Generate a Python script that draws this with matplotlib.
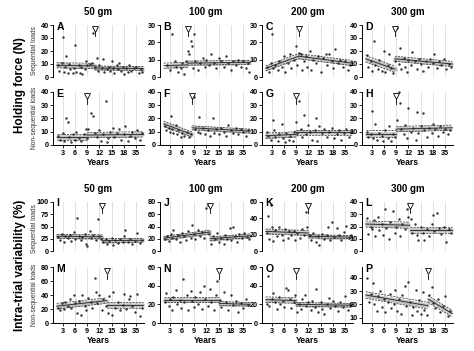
import numpy as np
import matplotlib
matplotlib.use("Agg")
import matplotlib.pyplot as plt

plt.rcParams['font.family'] = ['Liberation Sans', 'DejaVu Sans']

# x positions are ordinal age slots: tick k (1..7) -> 3,6,9,12,15,18,35 years
age_ticks = [1, 2, 3, 4, 5, 6, 7]
age_labels = ['3', '6', '9', '12', '15', '18', '35']
loads = ['50 gm', '100 gm', '200 gm', '300 gm']
letters = list('ABCDEFGHIJKLMNOP')

A_x = [0.6,0.7,0.9,1.0,1.1,1.2,1.3,1.4,1.5,1.6,1.8,1.9,2.0,2.1,2.3,2.4,2.5,2.6,2.8,2.9,3.0,3.2,3.4,3.5,3.6,3.8,3.9,4.0,4.2,4.3,4.4,4.6,4.8,4.9,5.0,5.1,5.2,5.4,5.5,5.6,5.8,5.9,6.0,6.2,6.3,6.4,6.6,6.8,7.0,7.2,7.4,7.5]
A_y = [9,5,11,31,4,8,16,3,10,6,3,7,25,4,9,3,8,2,6,12,9,10,11,34,8,15,5,9,7,14,4,6,8,5,12,7,3,9,6,11,5,8,2,7,4,9,5,7,8,3,6,4]
B_x = [0.8,1.0,1.2,1.4,1.5,1.7,1.9,2.0,2.2,2.3,2.5,2.6,2.7,2.8,2.9,3.0,3.1,3.3,3.5,3.7,3.9,4.0,4.2,4.4,4.6,4.8,5.0,5.2,5.4,5.6,5.8,6.0,6.2,6.4,6.6,6.8,7.0,7.2,7.4,7.5]
B_y = [7,4,25,9,6,3,5,8,2,9,15,13,21,18,5,25,9,4,8,11,6,10,7,13,8,5,11,9,6,12,8,4,9,7,10,6,9,5,8,3]
C_x = [0.6,0.8,0.9,1.0,1.1,1.3,1.5,1.6,1.8,2.0,2.1,2.3,2.5,2.6,2.8,3.0,3.1,3.2,3.4,3.5,3.6,3.8,3.9,4.1,4.2,4.4,4.6,4.8,5.0,5.2,5.4,5.5,5.7,5.9,6.0,6.2,6.4,6.6,6.8,7.0,7.2,7.4]
C_y = [6,3,8,25,5,7,4,9,6,12,3,8,13,5,10,18,7,14,13,4,9,12,6,15,4,10,8,12,3,11,13,7,13,9,5,16,8,10,6,9,4,7]
D_x = [0.6,0.7,0.9,1.0,1.2,1.3,1.5,1.6,1.8,2.0,2.1,2.3,2.4,2.6,2.7,2.9,3.1,3.2,3.3,3.4,3.6,3.7,3.9,4.0,4.2,4.3,4.5,4.7,4.9,5.0,5.2,5.4,5.6,5.8,6.0,6.1,6.3,6.5,6.7,6.9,7.1,7.3,7.5]
D_y = [17,8,12,5,28,9,6,13,5,20,4,9,18,7,3,12,38,10,22,6,15,8,4,13,9,19,12,6,14,10,5,12,8,14,11,18,7,12,9,14,6,10,8]
E_x = [0.6,0.8,1.0,1.1,1.3,1.4,1.5,1.7,1.8,2.0,2.1,2.3,2.5,2.7,2.9,3.0,3.1,3.3,3.5,3.6,3.8,4.0,4.1,4.3,4.5,4.6,4.7,4.9,5.1,5.2,5.4,5.6,5.8,6.0,6.1,6.3,6.5,6.7,6.9,7.1,7.3,7.5]
E_y = [7,4,9,3,20,17,6,2,8,4,10,5,3,8,12,5,12,24,22,9,6,11,3,8,33,2,5,10,13,6,9,12,4,8,14,3,7,10,5,11,4,9]
F_x = [0.6,0.7,0.9,1.0,1.1,1.2,1.3,1.5,1.6,1.7,1.9,2.0,2.2,2.4,2.6,2.7,3.0,3.1,3.3,3.4,3.5,3.7,3.9,4.1,4.3,4.5,4.6,4.8,5.0,5.2,5.4,5.6,5.8,6.0,6.2,6.4,6.6,6.8,7.0,7.2,7.4]
F_y = [14,11,13,10,22,12,9,15,8,11,6,9,7,10,6,8,36,12,10,21,9,13,8,11,7,20,9,12,8,13,10,7,15,11,9,13,8,12,10,7,11]
G_x = [0.6,0.7,0.9,1.1,1.2,1.3,1.5,1.6,1.8,1.9,2.1,2.2,2.4,2.5,2.7,2.8,3.0,3.1,3.2,3.4,3.5,3.6,3.8,4.0,4.1,4.3,4.5,4.6,4.7,4.9,5.1,5.3,5.5,5.7,5.9,6.1,6.3,6.5,6.7,6.9,7.1,7.3,7.5]
G_y = [10,7,4,19,11,6,3,8,16,5,2,9,4,7,3,10,17,9,33,12,6,23,8,15,10,4,11,20,3,14,9,12,6,10,13,5,8,11,4,9,12,6,10]
H_x = [0.6,0.7,0.9,1.0,1.1,1.3,1.4,1.6,1.8,1.9,2.1,2.3,2.4,2.6,2.7,2.9,3.1,3.2,3.3,3.4,3.6,3.7,3.9,4.0,4.2,4.4,4.6,4.7,4.8,5.0,5.2,5.3,5.5,5.7,5.9,6.0,6.2,6.4,6.6,6.8,7.0,7.2,7.4]
H_y = [10,6,8,26,5,16,4,9,7,3,11,5,14,3,8,6,19,40,32,12,8,15,5,28,10,13,4,25,9,14,24,11,6,13,9,16,12,7,14,10,12,8,11]
I_x = [0.6,0.8,0.9,1.1,1.2,1.4,1.6,1.7,1.9,2.0,2.2,2.3,2.5,2.6,2.8,2.9,3.0,3.2,3.3,3.5,3.7,3.9,4.0,4.1,4.3,4.5,4.6,4.8,5.0,5.1,5.3,5.5,5.7,5.9,6.0,6.1,6.3,6.5,6.7,6.9,7.1,7.3,7.5]
I_y = [28,22,35,18,30,26,33,20,38,25,68,30,22,28,34,15,10,40,26,32,22,65,30,25,18,24,14,20,27,12,22,16,25,19,30,42,18,24,14,20,36,17,23]
J_x = [0.6,0.8,0.9,1.1,1.2,1.3,1.5,1.7,1.8,2.0,2.2,2.3,2.5,2.7,2.8,3.0,3.1,3.3,3.5,3.6,3.8,4.0,4.1,4.2,4.4,4.5,4.7,4.9,5.0,5.2,5.4,5.5,5.7,5.9,6.0,6.2,6.3,6.5,6.7,6.9,7.1,7.3,7.5]
J_y = [20,25,17,28,22,34,19,26,15,30,24,18,32,22,42,27,20,35,25,31,22,70,75,28,12,24,19,30,15,22,12,26,20,38,18,39,24,14,28,21,30,23,19]
K_x = [0.6,0.7,0.8,0.9,1.0,1.1,1.3,1.4,1.6,1.8,1.9,2.1,2.3,2.4,2.6,2.8,2.9,3.1,3.3,3.5,3.6,3.8,3.9,4.1,4.2,4.4,4.6,4.8,4.9,5.1,5.3,5.5,5.6,5.8,5.9,6.1,6.3,6.5,6.7,6.9,7.1,7.3,7.5]
K_y = [22,43,15,56,30,12,26,18,29,20,14,27,16,24,19,25,13,22,16,27,19,48,30,20,14,22,11,18,7,21,15,19,30,13,35,17,28,20,14,23,31,16,19]
L_x = [0.6,0.7,0.9,1.0,1.2,1.3,1.5,1.6,1.8,1.9,2.1,2.2,2.4,2.5,2.7,2.9,3.0,3.2,3.3,3.5,3.7,3.9,4.0,4.2,4.3,4.5,4.7,4.8,5.0,5.2,5.3,5.5,5.7,5.9,6.0,6.1,6.3,6.5,6.7,6.9,7.1,7.3,7.5]
L_y = [27,14,20,18,25,12,28,17,22,13,34,19,10,24,33,15,20,26,12,22,18,34,28,26,15,22,13,9,20,15,9,18,12,22,29,16,31,19,14,20,7,18,15]
M_x = [0.6,0.8,0.9,1.1,1.2,1.4,1.6,1.7,1.9,2.0,2.2,2.3,2.5,2.6,2.8,2.9,3.1,3.3,3.4,3.6,3.7,3.8,4.0,4.2,4.3,4.5,4.7,4.8,5.0,5.1,5.3,5.5,5.7,5.9,6.0,6.2,6.4,6.5,6.7,6.9,7.1,7.3,7.5]
M_y = [22,18,28,20,30,25,35,22,40,28,15,32,12,40,25,18,36,30,22,65,45,28,40,18,35,25,15,38,12,45,22,30,18,26,42,20,35,38,24,16,42,10,22]
N_x = [0.6,0.7,0.9,1.0,1.2,1.3,1.5,1.6,1.8,1.9,2.1,2.2,2.4,2.5,2.7,2.8,3.0,3.1,3.3,3.5,3.6,3.8,3.9,4.1,4.3,4.4,4.6,4.8,4.9,5.1,5.2,5.4,5.6,5.8,6.0,6.2,6.4,6.6,6.8,7.0,7.2,7.4]
N_y = [22,32,18,26,14,28,35,20,25,16,47,22,30,14,34,24,17,28,20,33,15,40,26,18,36,22,14,30,45,25,17,33,22,14,30,19,24,12,21,16,26,19]
O_x = [0.6,0.7,0.8,1.0,1.1,1.3,1.4,1.6,1.7,1.9,2.0,2.2,2.3,2.5,2.6,2.8,2.9,3.1,3.2,3.4,3.5,3.7,3.8,4.0,4.2,4.3,4.5,4.6,4.8,5.0,5.1,5.3,5.5,5.7,5.8,6.0,6.2,6.4,6.6,6.8,7.0,7.2,7.4]
O_y = [20,50,18,26,32,22,15,28,20,24,17,38,35,26,16,22,30,12,20,15,26,30,18,22,14,24,17,36,12,22,15,10,20,27,16,24,18,13,22,17,29,14,20]
P_x = [0.6,0.8,0.9,1.1,1.2,1.4,1.5,1.7,1.8,2.0,2.1,2.3,2.5,2.6,2.8,2.9,3.1,3.2,3.4,3.5,3.7,3.8,4.0,4.1,4.3,4.4,4.6,4.7,4.9,5.0,5.2,5.3,5.5,5.7,5.9,6.0,6.2,6.4,6.6,6.8,7.0,7.2,7.4]
P_y = [40,22,28,36,20,15,26,30,18,24,14,22,28,17,20,31,15,24,13,27,34,19,37,22,12,18,31,15,23,13,29,16,12,27,33,21,17,24,14,19,26,11,15]

# piecewise fits: breakpoint, fitted value at start/end of each segment, CI half-width
breaks      = [3.6, 2.46, 3.2, 2.9, 3.0, 2.8, 3.0, 3.0, 4.25, 4.3, 4.0, 4.1, 4.6, 5.07, 3.0, 5.6]
left_start  = [9, 6.5, 5, 14, 6, 16, 7, 8.5, 30, 21, 24, 22, 24, 25, 25, 27]
left_end    = [8.5, 7, 12, 6, 6, 8, 8, 8.5, 29, 31, 22, 21, 32, 25, 24, 19]
right_start = [7, 8, 12, 14, 7.5, 13, 9.5, 12, 21, 20, 18, 17, 26, 21, 20, 24]
right_end   = [6.5, 8.5, 8, 10, 8, 10.5, 9.5, 13, 22, 25, 17, 17, 26, 20, 19, 13]
band_left   = [2, 1.5, 1.5, 2.5, 2, 2, 2, 2.5, 4, 3, 3, 2.5, 4, 3, 3, 2.5]
band_right  = [1.5, 1.2, 1.5, 2, 2, 1.5, 2, 2, 4, 3, 2, 2.5, 4, 2, 2, 2.5]

yticks = [[0,10,20,30,40],[0,10,20,30],[0,10,20,30],[0,10,20,30,40],
          [0,10,20,30,40],[0,10,20,30,40],[0,10,20,30,40],[0,10,20,30,40],
          [0,25,50,75,100],[0,20,40,60,80],[0,20,40,60],[0,10,20,30,40],
          [0,20,40,60,80],[0,20,40,60],[0,20,40,60],[10,20,30,40]]
ylims = [(0,40),(0,30),(0,30),(0,40),(0,40),(0,40),(0,40),(0,40),
         (0,100),(0,80),(0,60),(0,40),(0,80),(0,60),(0,60),(6,48)]

xs = [A_x,B_x,C_x,D_x,E_x,F_x,G_x,H_x,I_x,J_x,K_x,L_x,M_x,N_x,O_x,P_x]
ys = [A_y,B_y,C_y,D_y,E_y,F_y,G_y,H_y,I_y,J_y,K_y,L_y,M_y,N_y,O_y,P_y]

W, H = 474, 351
fig = plt.figure(figsize=(W/100, H/100), dpi=100)

col_left = [53, 160, 262, 362]
rows = [(25, 77), (92, 145), (202, 251), (267, 323)]
pw = 91
x0, x1 = 0.5, 7.6

for i in range(16):
    r, c = divmod(i, 4)
    top, bot = rows[r]
    ax = fig.add_axes([col_left[c]/W, 1-bot/H, pw/W, (bot-top)/H])
    bottom_row = r in (1, 3)

    for t in age_ticks:
        ax.axvline(t, color='#d4d4d4', lw=0.5, zorder=0)

    bp = breaks[i]
    segs = [((x0, bp), (left_start[i], left_end[i]), band_left[i]),
            ((bp, x1), (right_start[i], right_end[i]), band_right[i])]
    px = np.array(xs[i]); py = np.array(ys[i])
    for (xa, xb), (ya, yb), bw in segs:
        sel = (px >= xa) & (px <= xb)
        fit = ya + (yb - ya) * (px[sel] - xa) / (xb - xa)
        ax.plot(px[sel], fit, 's', ms=2.6, color='#bdbdbd', mec='none', zorder=1)
        ax.plot([xa, xb], [ya, yb], '-', color='#222222', lw=0.6, zorder=3)
        ax.plot([xa, xb], [ya+bw, yb+bw], '--', color='#222222', lw=0.5, dashes=(3, 1.5), zorder=3)
        ax.plot([xa, xb], [ya-bw, yb-bw], '--', color='#222222', lw=0.5, dashes=(3, 1.5), zorder=3)

    ax.plot(px, py, '.', ms=1.5, color='#333333', zorder=2, clip_on=False)

    # breakpoint marker
    tr = ax.get_xaxis_transform()
    ax.plot([bp, bp], [0.78, 0.86], color='black', lw=0.6, transform=tr, clip_on=False)
    ax.plot(bp, 0.92, marker='v', ms=5, mfc='white', mec='black', mew=0.6,
            transform=tr, clip_on=False)

    ax.set_xlim(0.2, 7.65)
    ax.set_ylim(*ylims[i])
    ax.set_yticks(yticks[i])
    ax.tick_params(axis='y', length=2, width=0.6, pad=1, labelsize=5.2)
    for lab in ax.get_yticklabels():
        lab.set_fontweight('bold')
    for s in ['top', 'right']:
        ax.spines[s].set_visible(False)
    ax.spines['left'].set_linewidth(0.7)
    if bottom_row:
        ax.spines['bottom'].set_linewidth(0.7)
        ax.set_xticks(age_ticks)
        ax.set_xticklabels(age_labels, fontsize=5.2, fontweight='bold')
        ax.tick_params(axis='x', length=2, width=0.6, pad=1.5)
        ax.set_xlabel('Years', fontsize=6.2, fontweight='bold', labelpad=1)
    else:
        ax.spines['bottom'].set_visible(False)
        ax.set_xticks([])

    ax.text(0.04, 0.97, letters[i], transform=ax.transAxes, fontsize=7.5,
            fontweight='bold', va='center', ha='left')

    if r in (0, 2):
        ax.set_title(loads[c], fontsize=7, fontweight='bold', pad=7)

fig.text(20/W, 1-85/H, 'Holding force (N)', rotation=90, fontsize=8.5,
         fontweight='bold', ha='center', va='center')
fig.text(20/W, 1-265/H, 'Intra-trial variability (%)', rotation=90, fontsize=8.5,
         fontweight='bold', ha='center', va='center')
for yc, txt in [(51, 'Sequential loads'), (118, 'Non-sequential loads'),
                (229, 'Sequential loads'), (295, 'Non-sequential loads')]:
    fig.text(34/W, 1-yc/H, txt, rotation=90, fontsize=4.8, color='#333333',
             ha='center', va='center')

fig.savefig('out.png', dpi=100)
